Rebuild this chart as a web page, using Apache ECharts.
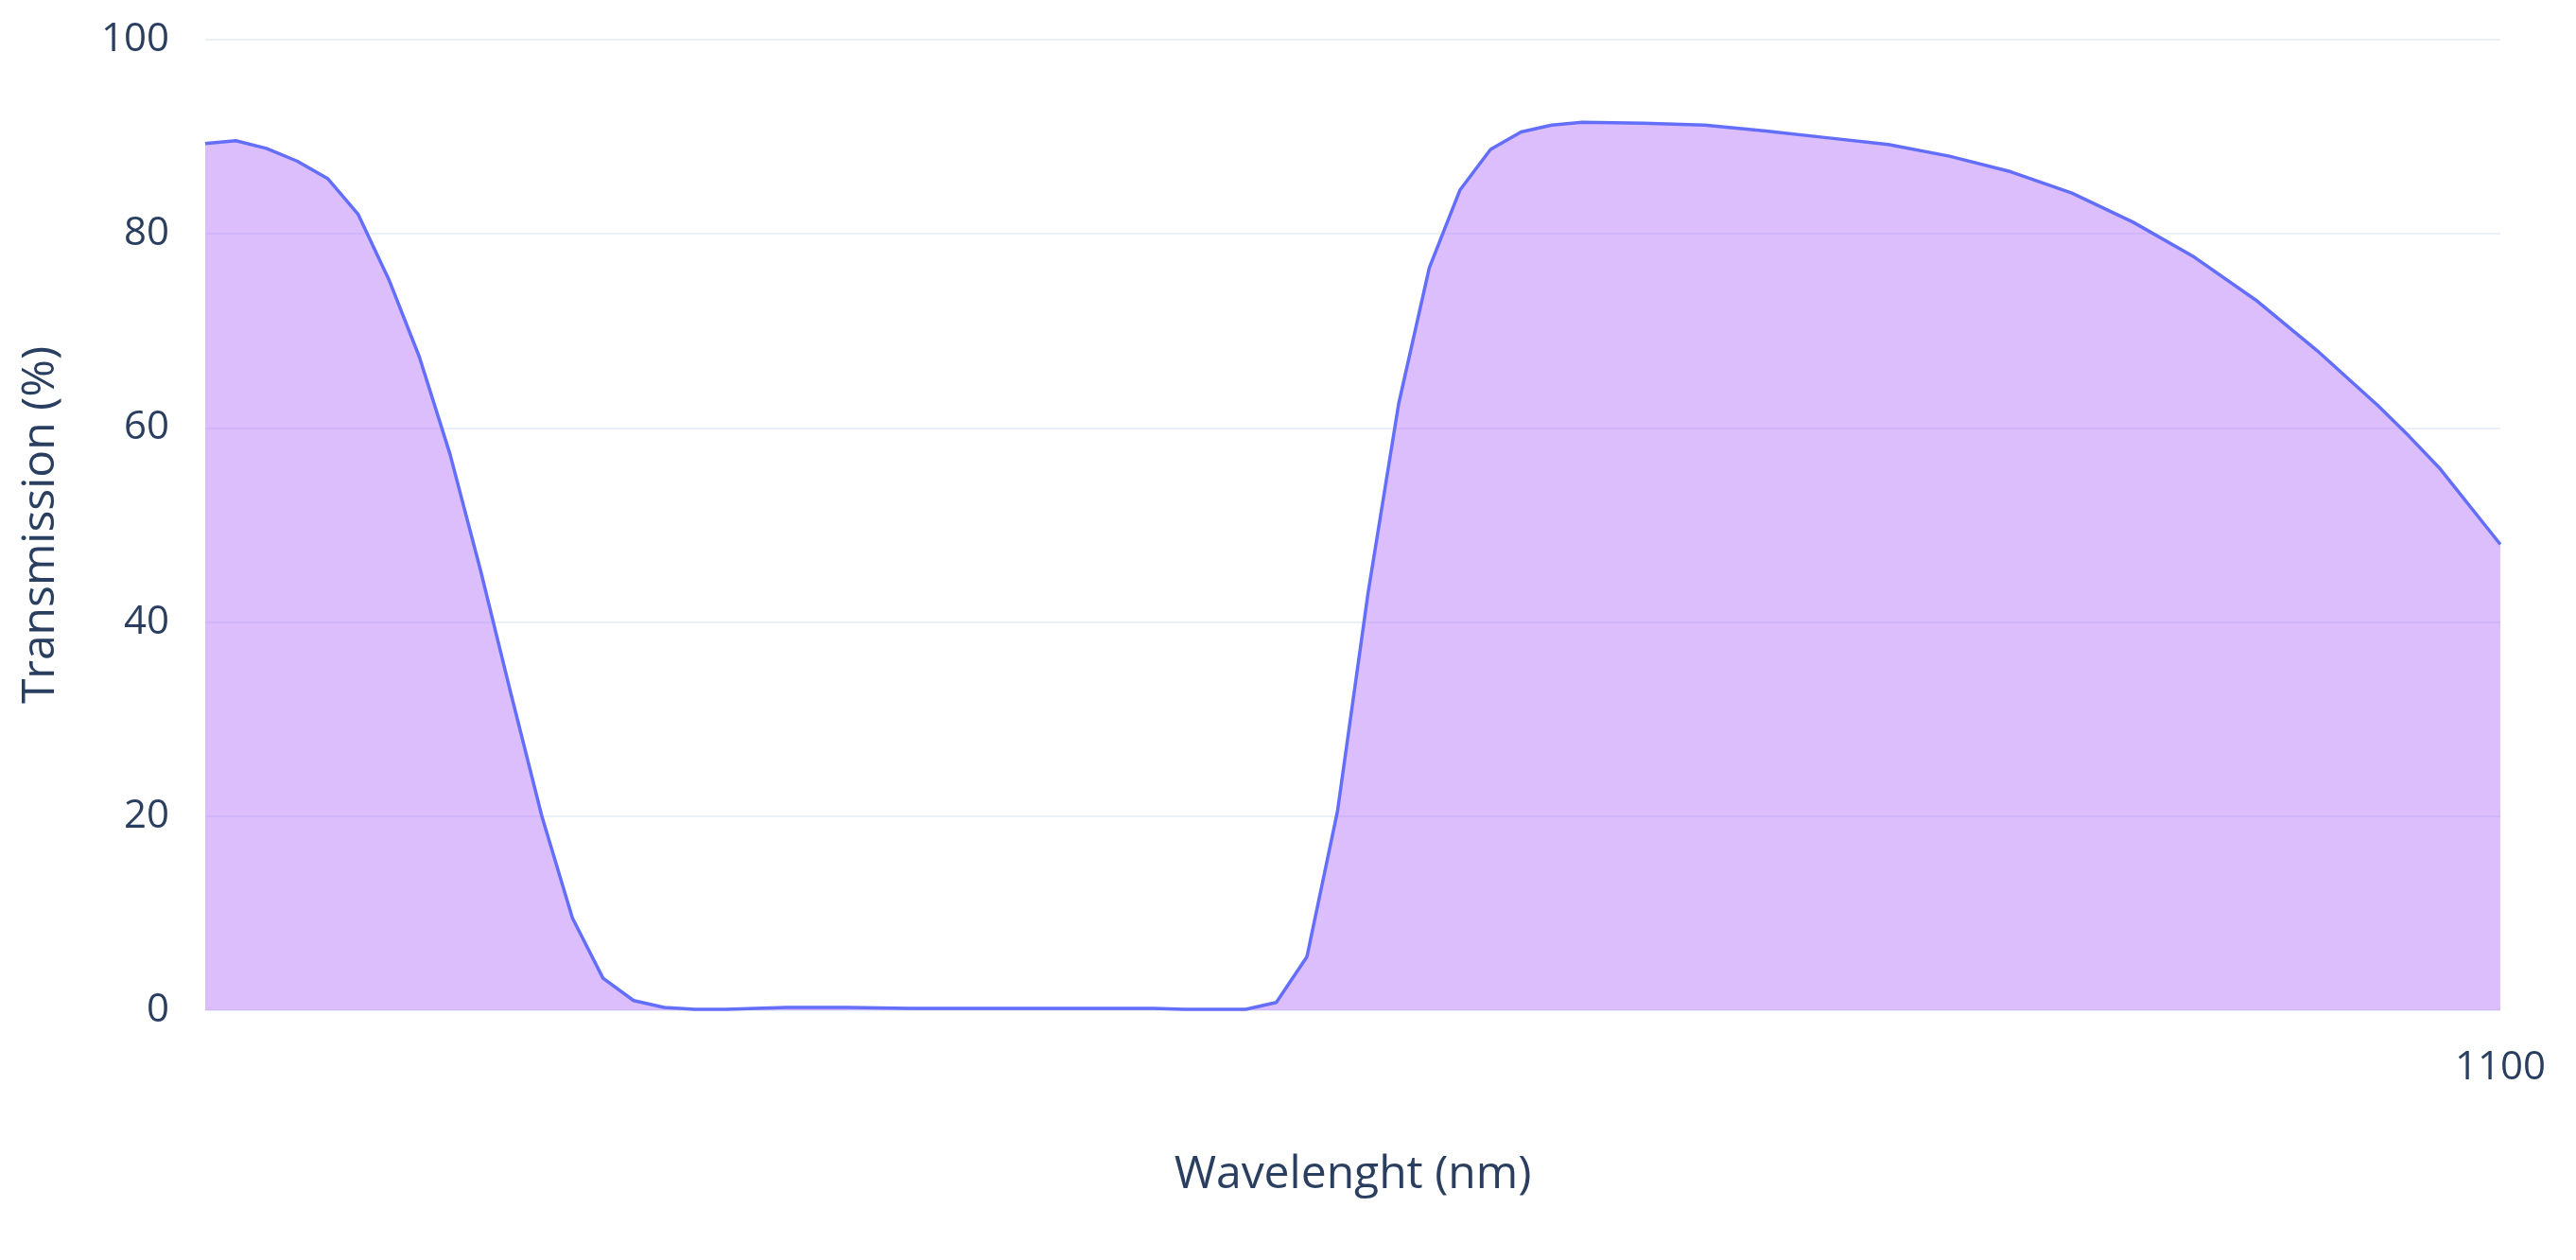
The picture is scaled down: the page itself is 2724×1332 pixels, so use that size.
<!DOCTYPE html>
<html><head><meta charset="utf-8">
<script src="https://cdn.jsdelivr.net/npm/echarts@6/dist/echarts.min.js"></script>
<style>html,body{margin:0;padding:0;background:#fff}#c{width:2724px;height:1332px}</style>
</head><body><div id="c"></div>
<script>
const wavelengths = [350,360,370,380,390,400,410,420,430,440,450,460,470,480,490,500,510,520,540,560,580,600,620,640,660,670,680,690,700,710,720,730,740,750,760,770,780,790,800,820,840,860,880,900,920,940,960,980,1000,1020,1040,1060,1070,1080,1100];
const transmission = [89.3,89.6,88.8,87.5,85.7,82,75.3,67.3,57.3,45.3,32.5,20,9.5,3.3,1,0.3,0.1,0.1,0.3,0.3,0.2,0.2,0.2,0.2,0.2,0.1,0.1,0.1,0.8,5.5,20.5,43,62.5,76.5,84.5,88.7,90.5,91.2,91.5,91.4,91.2,90.6,89.9,89.2,88,86.4,84.2,81.2,77.6,73.2,68,62.3,59.2,55.9,48];
const xTicks = [400,500,600,700,800,900,1000,1100];
const yTicks = [0,20,40,60,80,100];
const font = "'Open Sans', sans-serif", col = '#2a3f5f';
const chart = echarts.init(document.getElementById('c'));
chart.setOption({
  animation:false,
  grid:{left:217,right:80,top:42,bottom:264},
  xAxis:{type:'value',min:350,max:1100,interval:100,
    axisLabel:{color:col,fontFamily:font,fontSize:42,margin:40,formatter:v=>xTicks.includes(v)?v:'',showMinLabel:false},
    axisLine:{show:false},axisTick:{show:false},splitLine:{show:false},
    name:'Wavelenght (nm)',nameLocation:'middle',nameGap:150,nameTextStyle:{color:col,fontFamily:font,fontSize:48}},
  yAxis:{type:'value',min:0,max:100,interval:20,
    axisLabel:{color:col,fontFamily:font,fontSize:42,margin:38,formatter:v=>yTicks.includes(v)?v:''},
    axisLine:{show:false},axisTick:{show:false},splitLine:{lineStyle:{color:'#ebf0f8',width:2}},
    name:'Transmission (%)',nameLocation:'middle',nameGap:150,nameTextStyle:{color:col,fontFamily:font,fontSize:48}},
  series:[{type:'line',data:wavelengths.map((w,i)=>[w,transmission[i]]),showSymbol:false,
    lineStyle:{color:'#636efa',width:3.5},areaStyle:{color:'rgba(171,99,250,0.6)'},z:3}]
});
</script></body></html>
